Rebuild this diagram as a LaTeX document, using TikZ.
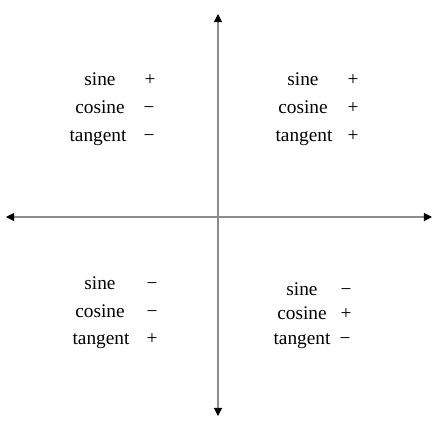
\documentclass[tikz,border=0pt]{standalone}
\usepackage{fontspec}
\setmainfont{Liberation Serif}
\usetikzlibrary{arrows.meta}

\begin{document}
\begin{tikzpicture}[
  x=0.03cm, y=-0.03cm,
  axis/.style={draw=black!45, line width=0.9pt,
    {Triangle[black, length=7pt, width=7pt]}-{Triangle[black, length=7pt, width=7pt]}},
  fname/.style={font=\fontsize{16.5}{18}\selectfont, inner sep=0pt,
    text height=1.6ex, text depth=0.4ex},
  fsign/.style={fname}
]
  \useasboundingbox (0,0) rectangle (438,438);

  % Axes
  \coordinate (west) at (6,217);
  \coordinate (east) at (432,217);
  \coordinate (north) at (218,14);
  \coordinate (south) at (218,416);
  \draw[axis] (west) -- (east);
  \draw[axis] (north) -- (south);

  % Upper left
  \node[fname] (ulsin) at (100,82) {sine};
  \node[fname] (ulcos) at (100,110) {cosine};
  \node[fname] (ultan) at (98,138) {tangent};
  \node[fsign] (ulsins) at (150,82) {+};
  \node[fsign] (ulcoss) at (149,110) {−};
  \node[fsign] (ultans) at (149,138) {−};

  % Upper right
  \node[fname] (ursin) at (303,82) {sine};
  \node[fname] (urcos) at (303,110) {cosine};
  \node[fname] (urtan) at (304,138) {tangent};
  \node[fsign] (ursins) at (353,82) {+};
  \node[fsign] (urcoss) at (353,110) {+};
  \node[fsign] (urtans) at (353,138) {+};

  % Lower left
  \node[fname] (llsin) at (100,286) {sine};
  \node[fname] (llcos) at (100,314) {cosine};
  \node[fname] (lltan) at (101,341) {tangent};
  \node[fsign] (llsins) at (152,286) {−};
  \node[fsign] (llcoss) at (152,314) {−};
  \node[fsign] (lltans) at (152,341) {+};

  % Lower right
  \node[fname] (lrsin) at (302,292) {sine};
  \node[fname] (lrcos) at (302,316) {cosine};
  \node[fname] (lrtan) at (302,341) {tangent};
  \node[fsign] (lrsins) at (346,292) {−};
  \node[fsign] (lrcoss) at (346,316) {+};
  \node[fsign] (lrtans) at (345,341) {−};
\end{tikzpicture}
\end{document}
